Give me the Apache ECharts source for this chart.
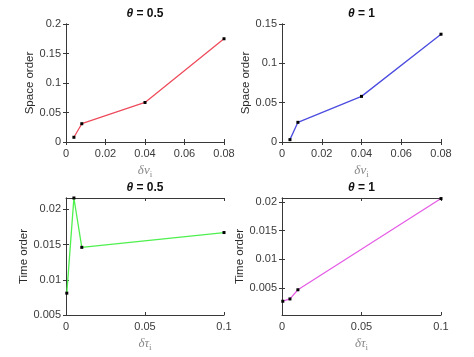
<!DOCTYPE html>
<html>
<head>
<meta charset="utf-8">
<script src="https://cdn.jsdelivr.net/npm/echarts@6/dist/echarts.min.js"></script>
<style>html,body{margin:0;padding:0;background:#fff}#c{width:474px;height:357px}</style>
</head>
<body>
<div id="c"></div>
<script>
// ---- data ----
const titles = ['0.5', '1', '0.5', '1'];
const spaceX = [0.004, 0.008, 0.04, 0.08];
const spaceY05 = [0.008, 0.031, 0.067, 0.175];
const spaceY1 = [0.003, 0.025, 0.058, 0.137];
const timeX = [0.0005, 0.005, 0.01, 0.1];
const timeY05 = [0.0081, 0.0216, 0.0146, 0.0167];
const timeY1 = [0.0027, 0.0031, 0.0047, 0.0206];
const xTicksSpace = [0, 0.02, 0.04, 0.06, 0.08];
const xTicksTime = [0, 0.05, 0.1];
const yTicks1 = [0, 0.05, 0.1, 0.15, 0.2];
const yTicks2 = [0, 0.05, 0.1, 0.15];
const yTicks3 = [0.005, 0.01, 0.015, 0.02];
const yTicks4 = [0.005, 0.01, 0.015, 0.02];
const colors = ['#ee4c5c', '#4c4ce0', '#4ef04e', '#e65ee6'];

const grids = [
  {left: 66, top: 24, width: 158, height: 118},
  {left: 282, top: 24, width: 159, height: 118},
  {left: 66, top: 198, width: 158, height: 117},
  {left: 282, top: 198, width: 159, height: 117}
];
const xr = [[0, 0.08, xTicksSpace], [0, 0.08, xTicksSpace], [0, 0.1, xTicksTime], [0, 0.1, xTicksTime]];
const yr = [[0, 0.2, yTicks1], [0, 0.15, yTicks2], [0.005, 0.0216, yTicks3], [0.0003, 0.0207, yTicks4]];
const xNames = ['δν', 'δν', 'δτ', 'δτ'];
const yNames = ['Space order', 'Space order', 'Time order', 'Time order'];
const dataY = [spaceY05, spaceY1, timeY05, timeY1];
const dataX = [spaceX, spaceX, timeX, timeX];

const axisCol = '#383838';
const fmt = v => String(+(+v).toPrecision(6));
const xAxis = [], yAxis = [], series = [], title = [];
for (let i = 0; i < 4; i++) {
  const g = grids[i];
  const common = {
    gridIndex: i, type: 'value',
    axisLine: {show: true, lineStyle: {color: axisCol, width: 1}},
    splitLine: {show: false}
  };
  xAxis.push(Object.assign({}, common, {
    position: 'bottom', min: xr[i][0], max: xr[i][1],
    axisTick: {show: true, inside: true, length: 3, customValues: xr[i][2], lineStyle: {color: axisCol}},
    axisLabel: {customValues: xr[i][2], formatter: fmt, color: '#3a3a3a', fontSize: 11, fontFamily: 'Liberation Sans, Arial', margin: 6},
    name: '{a|' + xNames[i] + '}{s|i}', nameLocation: 'middle', nameGap: 20,
    nameTextStyle: {rich: {
      a: {fontFamily: 'Liberation Serif, DejaVu Serif', fontSize: 13, color: '#8a8a8a', fontStyle: 'italic'},
      s: {fontFamily: 'Liberation Serif, DejaVu Serif', fontSize: 9, color: '#8a8a8a', verticalAlign: 'bottom', padding: [8, 0, 0, 0]}
    }}
  }));
  xAxis.push(Object.assign({}, common, {
    position: 'top', min: xr[i][0], max: xr[i][1],
    axisTick: {show: true, inside: true, length: 3, customValues: xr[i][2], lineStyle: {color: axisCol}},
    axisLabel: {show: false}
  }));
  yAxis.push(Object.assign({}, common, {
    position: 'left', min: yr[i][0], max: yr[i][1],
    axisTick: {show: true, inside: true, length: 3, customValues: yr[i][2], lineStyle: {color: axisCol}},
    axisLabel: {customValues: yr[i][2], formatter: fmt, color: '#3a3a3a', fontSize: 11, fontFamily: 'Liberation Sans, Arial', margin: 5},
    name: yNames[i], nameLocation: 'middle', nameGap: 27, nameRotate: 90,
    nameTextStyle: {fontFamily: 'Liberation Sans, Arial', fontSize: 11.5, color: '#2a2a2a'}
  }));
  yAxis.push(Object.assign({}, common, {
    position: 'right', min: yr[i][0], max: yr[i][1],
    axisTick: {show: true, inside: true, length: 3, customValues: yr[i][2], lineStyle: {color: axisCol}},
    axisLabel: {show: false}
  }));
  series.push({
    type: 'line', xAxisIndex: 2 * i, yAxisIndex: 2 * i,
    data: dataX[i].map((x, k) => [x, dataY[i][k]]),
    lineStyle: {color: colors[i], width: 1.3},
    symbol: 'rect', symbolSize: 3, itemStyle: {color: '#000'},
    animation: false, silent: true, clip: false
  });
  title.push({
    text: '{t|θ} = ' + titles[i],
    left: g.left + g.width / 2, top: g.top - 16, textAlign: 'center', padding: 0,
    textStyle: {fontFamily: 'Liberation Sans, Arial', fontSize: 12, fontWeight: 'bold', color: '#111',
      rich: {t: {fontFamily: 'Liberation Sans, Arial', fontSize: 12, fontWeight: 'bold', fontStyle: 'italic', color: '#111'}}}
  });
}
const chart = echarts.init(document.getElementById('c'));
chart.setOption({
  animation: false,
  title: title,
  grid: grids.map(g => Object.assign({show: false}, g)),
  xAxis: xAxis, yAxis: yAxis, series: series
});
</script>
</body>
</html>
